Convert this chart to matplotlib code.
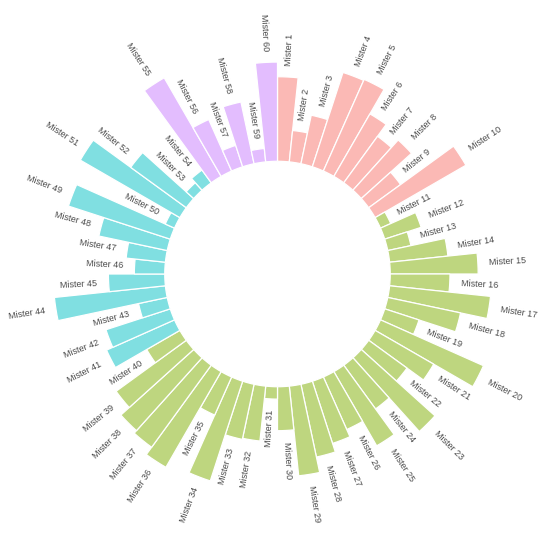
import numpy as np
import matplotlib
matplotlib.use("Agg")
import matplotlib.pyplot as plt

names = [f"Mister {i}" for i in range(1, 61)]
values = [75, 28, 44, 88, 89, 64, 51, 60, 35, 93,
          10, 34, 21, 52, 78, 53, 90, 66, 32, 100,
          60, 42, 88, 48, 76, 51, 58, 66, 80, 39,
          11, 49, 50, 93, 37, 98, 90, 87, 77, 34,
          66, 60, 26, 99, 50, 27, 35, 62, 95, 9,
          102, 61, 9, 14, 101, 50, 20, 56, 12, 88]
groups = ["A"] * 10 + ["B"] * 30 + ["C"] * 14 + ["D"] * 6
group_colors = {"A": "#FBB9B5", "B": "#BED67F", "C": "#80DFE1", "D": "#E3BDFE"}

n = len(values)
fig = plt.figure(figsize=(5.53, 5.52), dpi=100)
W, H = 553, 552
cx, cy, R = 277.5, 274, 248
ax = fig.add_axes([(cx - R) / W, (H - cy - R) / H, 2 * R / W, 2 * R / H], projection="polar")
ax.set_theta_zero_location("N")
ax.set_theta_direction(-1)

width = 2 * np.pi / n
theta = (np.arange(n) + 0.5) * width
colors = [group_colors[g] for g in groups]
ax.bar(theta, values, width=width, bottom=0, color=colors, edgecolor="white", linewidth=0.9)
ax.set_ylim(-100, 120)

for th, v, name in zip(theta, values, names):
    a = np.degrees(th)
    if a < 180:
        rot, ha = 90 - a, "left"
    else:
        rot, ha = 270 - a, "right"
    ax.text(th, v + 10, name, rotation=rot, ha=ha, va="center", rotation_mode="anchor",
            fontsize=6.5, color="#4a4a4a", family="Liberation Sans", clip_on=False)

ax.set_axis_off()
fig.savefig("out.png", dpi=100, facecolor="white")
